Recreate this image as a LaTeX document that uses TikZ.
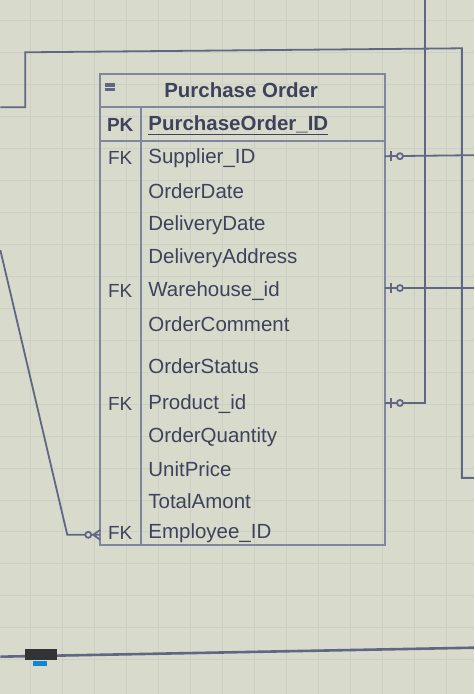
\documentclass[tikz,border=0pt]{standalone}
\usepackage{fontspec}
\setmainfont{Liberation Sans}
\usepackage{xcolor}

\definecolor{screen}{RGB}{216,219,203}
\definecolor{gridc}{RGB}{204,208,194}
\definecolor{edge}{RGB}{128,134,158}
\definecolor{wire}{RGB}{96,102,132}
\definecolor{ink}{RGB}{62,66,92}

\begin{document}
\begin{tikzpicture}[x=1pt, y=-1pt,
  wire/.style={draw=wire, line width=1.8pt},
  field/.style={anchor=west, text=ink, inner sep=0pt, font=\fontsize{20.5}{24}\selectfont},
  keytag/.style={text=ink, inner sep=0pt, font=\fontsize{19}{22}\selectfont}]
  % Screen background with a faint grid
  \fill[screen] (0,0) rectangle (474,694);
  \foreach \gx in {30,62,94,...,470} \draw[gridc, line width=0.7pt] (\gx,0) -- (\gx,694);
  \foreach \gy in {20,52,84,...,690} \draw[gridc, line width=0.7pt] (0,\gy) -- (474,\gy);
  \useasboundingbox (0,0) rectangle (474,694);

  % Line running round the top
  \coordinate (top-a) at (0,107);
  \coordinate (top-b) at (25,107);
  \coordinate (top-c) at (25,52);
  \coordinate (top-d) at (462,48);
  \coordinate (top-e) at (462,478);
  \coordinate (top-f) at (474,478);
  \draw[wire] (top-a) -- (top-b) -- (top-c) -- (top-d) -- (top-e) -- (top-f);

  % Table lines
  \draw[edge, line width=2.4pt] (100,74) rectangle (385,545);
  \draw[edge, line width=1.8pt] (100,107) -- (385,107);
  \draw[edge, line width=1.8pt] (100,141) -- (385,141);
  \draw[edge, line width=1.8pt] (141,107) -- (141,545);
  \fill[wire] (106,84) rectangle ++(8,1.5);
  \fill[wire] (106,88.5) rectangle ++(8,1.5);

  % Title and primary key
  \node[text=ink, inner sep=0pt, font=\fontsize{20.5}{24}\selectfont\bfseries] (title) at (241,90) {Purchase Order};
  \node[keytag, font=\fontsize{19}{22}\selectfont\bfseries] (pk) at (120,125) {PK};
  \node[field, font=\fontsize{20.5}{24}\selectfont\bfseries] (pkname) at (148,125) {\underline{PurchaseOrder\_ID}};

  % Columns
  \node[keytag] (fk-sup) at (120,158) {FK};
  \node[field] (sup) at (148,158) {Supplier\_ID};
  \node[field] (odate) at (148,191) {OrderDate};
  \node[field] (ddate) at (148,225) {DeliveryDate};
  \node[field] (daddr) at (148,258) {DeliveryAddress};
  \node[keytag] (fk-wh) at (120,291) {FK};
  \node[field] (wh) at (148,291) {Warehouse\_id};
  \node[field] (ocom) at (148,324) {OrderComment};
  \node[field] (ostat) at (148,366) {OrderStatus};
  \node[keytag] (fk-prod) at (120,404) {FK};
  \node[field] (prod) at (148,404) {Product\_id};
  \node[field] (oqty) at (148,437) {OrderQuantity};
  \node[field] (uprice) at (148,469) {UnitPrice};
  \node[field] (total) at (148,501) {TotalAmont};
  \node[keytag] (fk-emp) at (120,533) {FK};
  \node[field] (emp) at (148,533) {Employee\_ID};

  % Supplier link
  \coordinate (sup-r) at (385,156);
  \coordinate (sup-out) at (474,155);
  \draw[wire] (sup-r) -- (sup-out);
  \draw[wire] (391,151) -- (391,161);
  \draw[wire, fill=screen] (400,156) circle (3);

  % Warehouse link
  \coordinate (wh-r) at (385,288);
  \coordinate (wh-out) at (474,288);
  \draw[wire] (wh-r) -- (wh-out);
  \draw[wire] (391,283) -- (391,293);
  \draw[wire, fill=screen] (400,288) circle (3);

  % Product link
  \coordinate (prod-r) at (385,403);
  \coordinate (prod-bend) at (425,403);
  \coordinate (prod-top) at (425,0);
  \draw[wire] (prod-r) -- (prod-bend) -- (prod-top);
  \draw[wire] (391,398) -- (391,408);
  \draw[wire, fill=screen] (400,403) circle (3);

  % Employee link
  \coordinate (emp-a) at (0,250);
  \coordinate (emp-b) at (67,535);
  \coordinate (emp-l) at (100,535);
  \draw[wire] (emp-a) -- (emp-b) -- (emp-l);
  \draw[wire] (93,535) -- (100,530);
  \draw[wire] (93,535) -- (100,540);
  \draw[wire, fill=screen] (88,535) circle (3);

  % Bottom line with its tab
  \coordinate (bot-l) at (0,657);
  \coordinate (bot-r) at (474,648);
  \draw[wire, line width=2.6pt] (bot-l) -- (bot-r);
  \fill[black!80] (25,649) rectangle (57,660);
  \fill[cyan!70!blue] (33,661) rectangle (47,666);
\end{tikzpicture}
\end{document}
